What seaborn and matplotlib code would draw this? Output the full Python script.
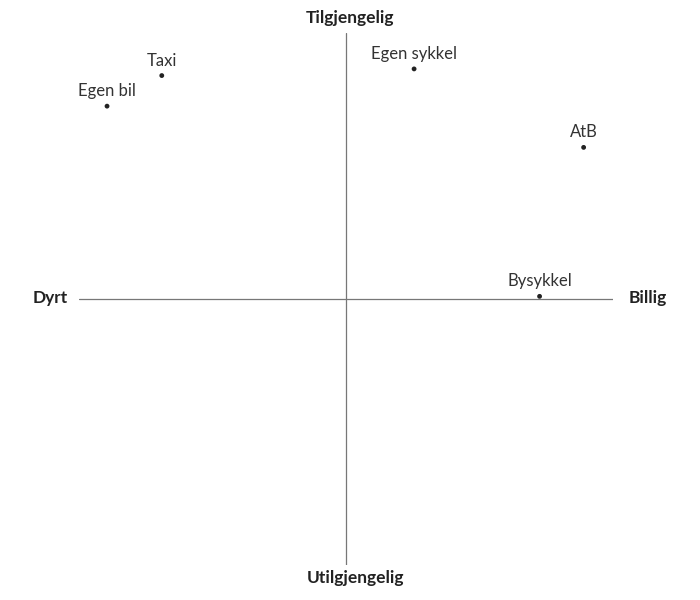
import matplotlib
matplotlib.use("Agg")
import matplotlib.pyplot as plt
import seaborn as sns
import pandas as pd

# --- data ---
labels = ["Taxi", "Egen bil", "Egen sykkel", "AtB", "Bysykkel"]
cost = [-6.9, -8.95, 2.55, 8.9, 7.25]          # negative = dyrt, positive = billig
access = [8.4, 7.25, 8.65, 5.7, 0.1]           # positive = tilgjengelig

df = pd.DataFrame({"label": labels, "cost": cost, "access": access})

sns.set_theme(style="white")
plt.rcParams['font.family'] = ['Lato', 'DejaVu Sans']

fig = plt.figure(figsize=(7, 6), dpi=100)
ax = fig.add_axes([79 / 700, 1 - 565 / 600, (613 - 79) / 700, (565 - 33) / 600])
ax.set_xlim(-10, 10)
ax.set_ylim(-10, 10)
ax.axis("off")

# cross axes
ax.axhline(0, color="#777777", lw=0.9)
ax.axvline(0, color="#777777", lw=0.9)

sns.scatterplot(data=df, x="cost", y="access", ax=ax, color="#222222",
                s=12, edgecolor="none", legend=False, zorder=3)

for _, r in df.iterrows():
    ax.annotate(r["label"], (r["cost"], r["access"]), xytext=(0, 5),
                textcoords="offset points", ha="center", va="bottom",
                fontsize=12, color="#333333")

# axis end labels
bold = dict(fontsize=12.5, fontweight="bold", color="#222222")
fig.text(350 / 700, 1 - 18 / 600, "Tilgjengelig", ha="center", va="center", **bold)
fig.text(355 / 700, 1 - 578 / 600, "Utilgjengelig", ha="center", va="center", **bold)
fig.text(50 / 700, 1 - 298 / 600, "Dyrt", ha="center", va="center", **bold)
fig.text(648 / 700, 1 - 298 / 600, "Billig", ha="center", va="center", **bold)

fig.savefig("out.png", dpi=100, facecolor="white")
